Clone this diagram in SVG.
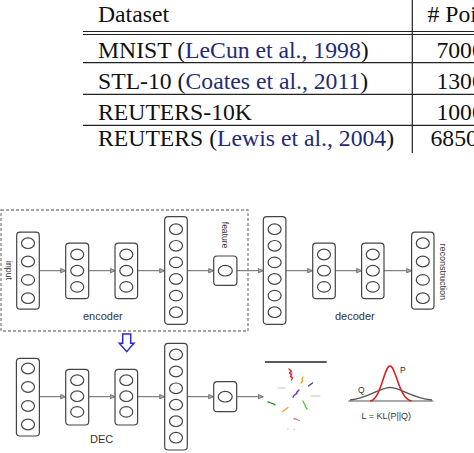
<svg xmlns="http://www.w3.org/2000/svg" width="474" height="453" viewBox="0 0 474 453">
<defs>
<style>
.tb{font-family:"Liberation Serif","Times New Roman",serif;font-size:23.7px;fill:#111}
.cite{fill:#1f2a7a}
.rule{stroke:#222;stroke-width:1.2}
.lay{fill:#fff;stroke:#444;stroke-width:1.2}
.neu{fill:none;stroke:#444;stroke-width:1.2}
.lbl{font-family:"Liberation Sans",Arial,sans-serif;fill:#333}
.conn{stroke:#666;stroke-width:1;fill:none;marker-end:url(#ah)}
</style>
<marker id="ah" viewBox="0 0 6 6" refX="5.5" refY="3" markerWidth="6" markerHeight="6" markerUnits="userSpaceOnUse" orient="auto">
<path d="M0.5,0.8 L5.5,3 L0.5,5.2 Z" fill="#aaa" stroke="#666" stroke-width="0.8"/>
</marker>
</defs>
<rect width="474" height="453" fill="#fff"/>

<g id="table">
<line class="rule" x1="412.3" y1="0" x2="412.3" y2="153"/>
<line class="rule" x1="83" y1="31.5" x2="474" y2="31.5"/>
<line class="rule" x1="83" y1="34.5" x2="474" y2="34.5"/>
<line class="rule" x1="83" y1="62.7" x2="474" y2="62.7"/>
<line class="rule" x1="83" y1="94.3" x2="474" y2="94.3"/>
<line class="rule" x1="83" y1="125.3" x2="474" y2="125.3"/>
<text class="tb" x="98" y="21.7">Dataset</text>
<text class="tb" x="466" y="21.7" text-anchor="middle"># Points</text>
<text class="tb" x="98" y="58.3">MNIST (<tspan class="cite">LeCun et al., 1998</tspan>)</text>
<text class="tb" x="466" y="58.3" text-anchor="middle">70000</text>
<text class="tb" x="98" y="89.3">STL-10 (<tspan class="cite">Coates et al., 2011</tspan>)</text>
<text class="tb" x="466" y="89.3" text-anchor="middle">13000</text>
<text class="tb" x="98" y="120">REUTERS-10K</text>
<text class="tb" x="466" y="120" text-anchor="middle">10000</text>
<text class="tb" x="98" y="146">REUTERS (<tspan class="cite">Lewis et al., 2004</tspan>)</text>
<text class="tb" x="466" y="146" text-anchor="middle">685071</text>
</g>

<g id="autoencoder-box">
<rect x="1" y="210" width="247" height="121" fill="none" stroke="#888" stroke-width="1.3" stroke-dasharray="3 2"/>
</g>

<g id="connectors">
<line class="conn" x1="39.3" y1="270.7" x2="65.7" y2="270.7"/>
<line class="conn" x1="88.7" y1="270.7" x2="115.3" y2="270.7"/>
<line class="conn" x1="137.3" y1="270.7" x2="164.7" y2="270.7"/>
<line class="conn" x1="187.3" y1="270.7" x2="213.7" y2="270.7"/>
<line class="conn" x1="237" y1="270.7" x2="263.3" y2="270.7"/>
<line class="conn" x1="286" y1="270.7" x2="312.7" y2="270.7"/>
<line class="conn" x1="335.3" y1="270.7" x2="361.7" y2="270.7"/>
<line class="conn" x1="384" y1="270.7" x2="411.7" y2="270.7"/>
<line class="conn" x1="39.3" y1="396.7" x2="65.7" y2="396.7"/>
<line class="conn" x1="88.7" y1="396.7" x2="115" y2="396.7"/>
<line class="conn" x1="137.7" y1="396.7" x2="164.7" y2="396.7"/>
<line class="conn" x1="187.3" y1="396.7" x2="213.7" y2="396.7"/>
<line class="conn" x1="236.7" y1="396.7" x2="263.3" y2="396.7"/>
<path d="M122.7,334 H130.7 V343.3 H134 L126.7,351.7 L119.3,343.3 H122.7 Z" fill="#fff" stroke="#2a2ad0" stroke-width="1.5" stroke-linejoin="miter"/>
</g>

<!-- encoder / decoder row -->
<g id="enc-input" transform="translate(28,270.7)">
<rect class="lay" x="-11.3" y="-38.5" width="22.6" height="77" rx="3.5"/>
<ellipse class="neu" cx="0" cy="-27.5" rx="6.5" ry="5.3"/><ellipse class="neu" cx="0" cy="-9.2" rx="6.5" ry="5.3"/><ellipse class="neu" cx="0" cy="9.2" rx="6.5" ry="5.3"/><ellipse class="neu" cx="0" cy="27.5" rx="6.5" ry="5.3"/>
</g>
<g id="enc-h1" transform="translate(77.2,270.7)">
<rect class="lay" x="-11.5" y="-27.5" width="23" height="55.5" rx="3.5"/>
<ellipse class="neu" cx="0" cy="-16.2" rx="6.5" ry="5.3"/><ellipse class="neu" cx="0" cy="0" rx="6.5" ry="5.3"/><ellipse class="neu" cx="0" cy="16.2" rx="6.5" ry="5.3"/>
</g>
<g id="enc-h2" transform="translate(126.3,270.7)">
<rect class="lay" x="-11.3" y="-27.5" width="22.6" height="55.5" rx="3.5"/>
<ellipse class="neu" cx="0" cy="-16.2" rx="6.5" ry="5.3"/><ellipse class="neu" cx="0" cy="0" rx="6.5" ry="5.3"/><ellipse class="neu" cx="0" cy="16.2" rx="6.5" ry="5.3"/>
</g>
<g id="enc-h3" transform="translate(176,270.7)">
<rect class="lay" x="-11.3" y="-54" width="22.6" height="107.6" rx="3.5"/>
<ellipse class="neu" cx="0" cy="-41.5" rx="6.5" ry="5.3"/><ellipse class="neu" cx="0" cy="-24.9" rx="6.5" ry="5.3"/><ellipse class="neu" cx="0" cy="-8.3" rx="6.5" ry="5.3"/><ellipse class="neu" cx="0" cy="8.3" rx="6.5" ry="5.3"/><ellipse class="neu" cx="0" cy="24.9" rx="6.5" ry="5.3"/><ellipse class="neu" cx="0" cy="41.5" rx="6.5" ry="5.3"/>
</g>
<g id="enc-feature" transform="translate(225.3,270.7)">
<rect class="lay" x="-11.6" y="-14.7" width="23.2" height="29.4" rx="3.5"/>
<ellipse class="neu" cx="0" cy="0" rx="7" ry="5.3"/>
</g>
<g id="dec-h1" transform="translate(274.6,270.7)">
<rect class="lay" x="-11.3" y="-54" width="22.6" height="107.6" rx="3.5"/>
<ellipse class="neu" cx="0" cy="-41.5" rx="6.5" ry="5.3"/><ellipse class="neu" cx="0" cy="-24.9" rx="6.5" ry="5.3"/><ellipse class="neu" cx="0" cy="-8.3" rx="6.5" ry="5.3"/><ellipse class="neu" cx="0" cy="8.3" rx="6.5" ry="5.3"/><ellipse class="neu" cx="0" cy="24.9" rx="6.5" ry="5.3"/><ellipse class="neu" cx="0" cy="41.5" rx="6.5" ry="5.3"/>
</g>
<g id="dec-h2" transform="translate(324,270.7)">
<rect class="lay" x="-11.3" y="-27.5" width="22.6" height="55.5" rx="3.5"/>
<ellipse class="neu" cx="0" cy="-16.2" rx="6.5" ry="5.3"/><ellipse class="neu" cx="0" cy="0" rx="6.5" ry="5.3"/><ellipse class="neu" cx="0" cy="16.2" rx="6.5" ry="5.3"/>
</g>
<g id="dec-h3" transform="translate(372.8,270.7)">
<rect class="lay" x="-11.2" y="-27.5" width="22.4" height="55.5" rx="3.5"/>
<ellipse class="neu" cx="0" cy="-16.2" rx="6.5" ry="5.3"/><ellipse class="neu" cx="0" cy="0" rx="6.5" ry="5.3"/><ellipse class="neu" cx="0" cy="16.2" rx="6.5" ry="5.3"/>
</g>
<g id="dec-output" transform="translate(422.8,270.7)">
<rect class="lay" x="-11.2" y="-38.5" width="22.4" height="77" rx="3.5"/>
<ellipse class="neu" cx="0" cy="-27.5" rx="6.5" ry="5.3"/><ellipse class="neu" cx="0" cy="-9.2" rx="6.5" ry="5.3"/><ellipse class="neu" cx="0" cy="9.2" rx="6.5" ry="5.3"/><ellipse class="neu" cx="0" cy="27.5" rx="6.5" ry="5.3"/>
</g>

<g id="labels-ae">
<text class="lbl" font-size="8.8" text-anchor="middle" transform="translate(5.5,270.5) rotate(90)">input</text>
<text class="lbl" font-size="8.5" text-anchor="middle" transform="translate(222,235) rotate(90)">feature</text>
<text class="lbl" font-size="9" text-anchor="middle" transform="translate(439.5,271.7) rotate(90)">reconstruction</text>
<text class="lbl" font-size="11" x="83" y="319.5">encoder</text>
<text class="lbl" font-size="11" x="335" y="319.5">decoder</text>
</g>

<!-- DEC row -->
<g id="dec-input" transform="translate(28,397)">
<rect class="lay" x="-11.6" y="-38.7" width="23" height="77.7" rx="3.5"/>
<ellipse class="neu" cx="0" cy="-28.5" rx="6.5" ry="5.3"/><ellipse class="neu" cx="0" cy="-10" rx="6.5" ry="5.3"/><ellipse class="neu" cx="0" cy="9" rx="6.5" ry="5.3"/><ellipse class="neu" cx="0" cy="27.5" rx="6.5" ry="5.3"/>
</g>
<g id="dec-e1" transform="translate(77.2,396.7)">
<rect class="lay" x="-11.5" y="-27.4" width="23" height="55.7" rx="3.5"/>
<ellipse class="neu" cx="0" cy="-16.5" rx="6.5" ry="5.3"/><ellipse class="neu" cx="0" cy="-0.5" rx="6.5" ry="5.3"/><ellipse class="neu" cx="0" cy="15.2" rx="6.5" ry="5.3"/>
</g>
<g id="dec-e2" transform="translate(126.3,396.7)">
<rect class="lay" x="-11.3" y="-27.4" width="22.6" height="55.7" rx="3.5"/>
<ellipse class="neu" cx="0" cy="-16.5" rx="6.5" ry="5.3"/><ellipse class="neu" cx="0" cy="-0.5" rx="6.5" ry="5.3"/><ellipse class="neu" cx="0" cy="15.2" rx="6.5" ry="5.3"/>
</g>
<g id="dec-e3" transform="translate(176,396.7)">
<rect class="lay" x="-11.3" y="-53.4" width="22.6" height="106.7" rx="3.5"/>
<ellipse class="neu" cx="0" cy="-42.2" rx="6.5" ry="5.3"/><ellipse class="neu" cx="0" cy="-25.2" rx="6.5" ry="5.3"/><ellipse class="neu" cx="0" cy="-8.4" rx="6.5" ry="5.3"/><ellipse class="neu" cx="0" cy="8" rx="6.5" ry="5.3"/><ellipse class="neu" cx="0" cy="24.5" rx="6.5" ry="5.3"/><ellipse class="neu" cx="0" cy="41" rx="6.5" ry="5.3"/>
</g>
<g id="dec-feature" transform="translate(225.2,396.7)">
<rect class="lay" x="-11.5" y="-15" width="23" height="30" rx="3.5"/>
<ellipse class="neu" cx="0" cy="0" rx="7" ry="5.3"/>
</g>
<g id="dec-label">
<text class="lbl" font-size="11" x="90" y="443.3">DEC</text>
</g>

<g id="scatter">
<line x1="265" y1="362" x2="326.7" y2="362" stroke="#222" stroke-width="1.3"/>
<g fill="none" stroke-linecap="round" stroke-width="1.3">
<path d="M289,369 l2,2 l-1.5,2 l2,1.5 l-1,2 l2,1.5 l-1,2" stroke="#c82828"/>
<path d="M291,370 l1,3 l-1,2 l1.5,3" stroke="#e04040" stroke-width="0.8"/>
<path d="M303,377 l-1,2 l0.5,2 l-1.5,2" stroke="#f0a020"/>
<path d="M312.5,383 l-2,1.5 l-2,1.5" stroke="#2848b8"/>
<path d="M278,388 h7" stroke="#bbb" stroke-width="0.9"/>
<path d="M299,390 l-2,2 l-1,2 l-2,1.5 l-1,2" stroke="#7030b8"/>
<path d="M298,392 l-1,2 l-2,1" stroke="#9060d0" stroke-width="0.8"/>
<path d="M311,396 h9" stroke="#bbb" stroke-width="0.9"/>
<path d="M268,402 l2,0.5 l2,1 l2,0.5 l1,1" stroke="#289028"/>
<path d="M303,401 l1,2 l1,2 l0.5,2 l1.5,2" stroke="#58c040"/>
<path d="M288,407.5 l-2,1.5 l-2,1.5 l-1.5,1" stroke="#f0a040"/>
<path d="M294,418.5 l2,0.5 l2,1 l1.5,0.5" stroke="#e07070"/>
</g>
<circle cx="288" cy="429" r="0.7" fill="#bbb"/>
<circle cx="294" cy="429.5" r="0.7" fill="#bbb"/>
</g>

<g id="kl">
<line x1="348.3" y1="401" x2="433.3" y2="401" stroke="#555" stroke-width="1.1"/>
<path d="M350,400 C370,397.5 378,388 390,387.3 C402,388 410,397.5 432,400" fill="none" stroke="#555" stroke-width="1.3"/>
<path d="M370,401 C381,400 384,366 390,366 C396,366 399,400 411.7,401" fill="none" stroke="#e02020" stroke-width="1.6"/>
<text class="lbl" font-size="8.5" x="400" y="373">P</text>
<text class="lbl" font-size="8.5" x="358" y="392.5">Q</text>
<text class="lbl" font-size="9" x="361.5" y="419">L = KL(P||Q)</text>
</g>
</svg>
